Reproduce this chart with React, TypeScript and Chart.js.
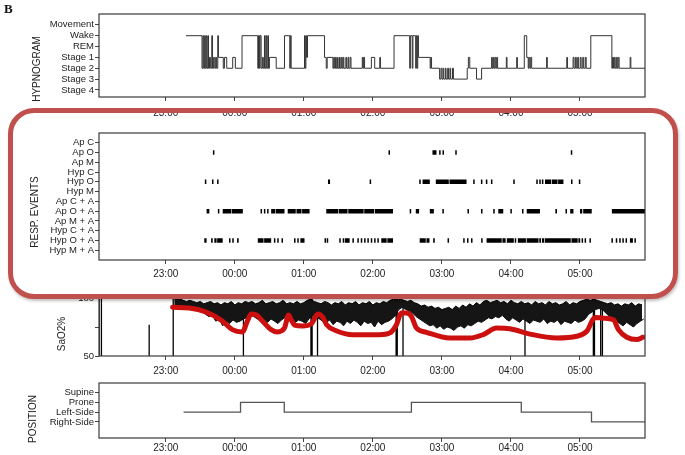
import React, { useEffect, useRef } from "react";
import { Chart, registerables } from "chart.js";

Chart.register(...registerables);

// ---------- shared time axis (minutes after 23:00) ----------
const TIME_TICKS = [0, 60, 120, 180, 240, 300, 360];
const TIME_LABELS = ["23:00", "00:00", "01:00", "02:00", "03:00", "04:00", "05:00"];
const X_MIN = -58;
const X_MAX = 416.5;

// ---------- hypnogram ----------
const HYP_LABELS = ["Movement", "Wake", "REM", "Stage 1", "Stage 2", "Stage 3", "Stage 4"];
// [minute, stage index] : stage held from this minute on
const HYP_CHANGES: [number, number][] = [
  [17.6, 1],
  [31.5, 4], [32.3, 1], [33.0, 4], [33.8, 1], [34.4, 4], [35.2, 1], [35.8, 4], [36.6, 1], [37.2, 4], [38.0, 3],
  [39.0, 4], [40.0, 1], [40.6, 4], [41.6, 3], [42.6, 4], [43.4, 3], [44.2, 4], [45.2, 1], [45.8, 3],
  [50.0, 4], [51.0, 3], [53.0, 4], [58.2, 3], [60.5, 4],
  [66.3, 1],
  [80.0, 4], [80.6, 1], [81.4, 4], [82.0, 1], [82.9, 4], [84.0, 3], [84.8, 4], [85.8, 1], [86.4, 4], [87.2, 1],
  [87.8, 4], [88.7, 1], [89.3, 4], [90.1, 3], [96.0, 4],
  [103.2, 1], [107.8, 4], [108.3, 1], [109.0, 4],
  [120.6, 1], [121.2, 4], [121.8, 1], [122.4, 3], [123.2, 1],
  [138.0, 3], [139.5, 4], [140.3, 3], [145.3, 4], [146.0, 3], [146.8, 4], [147.6, 3], [148.2, 4], [149.2, 3],
  [149.8, 4], [151.0, 3], [151.6, 4], [152.6, 3], [153.4, 4], [154.2, 3], [154.8, 4], [156.5, 3], [157.2, 4],
  [158.4, 3], [159.0, 4], [160.2, 3], [161.0, 4],
  [170.8, 3], [171.4, 4], [172.0, 3], [172.8, 4],
  [178.7, 3], [181.6, 4], [186.0, 3], [186.6, 4],
  [198.4, 1], [212.0, 4], [212.6, 1], [214.2, 4], [214.8, 1], [217.2, 4], [217.8, 1], [218.4, 4], [219.0, 1], [219.6, 3],
  [229.8, 4], [230.4, 3], [231.0, 4],
  [238.0, 5], [239.2, 4], [240.0, 5], [241.0, 4], [241.6, 5], [243.0, 4], [243.6, 5], [245.0, 4], [245.8, 5],
  [247.0, 4], [247.6, 5], [249.2, 4], [250.0, 5],
  [262.0, 4], [263.0, 3], [264.2, 4], [270.1, 5], [274.5, 4],
  [283.2, 3], [283.8, 4], [284.6, 3], [285.2, 4], [286.0, 3], [286.8, 4], [287.6, 3], [288.4, 4],
  [296.0, 3], [296.6, 4], [305.0, 3], [305.6, 4],
  [311.6, 1], [313.7, 3], [315.0, 4], [315.6, 3], [316.4, 4], [317.2, 3], [318.0, 4],
  [331.0, 3], [331.6, 4], [348.5, 3], [349.1, 4],
  [354.0, 3], [354.8, 4], [356.0, 3], [356.8, 4], [358.0, 3], [358.6, 4], [360.2, 3], [361.0, 4], [362.4, 3],
  [363.2, 4], [364.6, 3], [365.4, 4],
  [369.4, 1], [387.7, 4], [388.3, 3], [389.2, 4], [389.8, 3], [390.6, 4], [391.6, 3], [392.4, 4], [393.2, 3], [394.0, 4],
  [403.6, 3], [404.2, 4],
  [416.5, 4],
];

// ---------- respiratory events ----------
const RESP_LABELS = [
  "Ap C", "Ap O", "Ap M", "Hyp C", "Hyp O", "Hyp M",
  "Ap C + A", "Ap O + A", "Ap M + A", "Hyp C + A", "Hyp O + A", "Hyp M + A",
];
// [start minute, end minute]
const EV_AP_O: [number, number][] = [
  [41, 42.3], [193.6, 194.9], [231.8, 235.3], [237.6, 238.9], [240.5, 241.8], [251.6, 252.9], [352, 353.3],
];
const EV_HYP_O: [number, number][] = [
  [34, 35.3], [40.2, 41.5], [44.6, 45.9], [141, 142.8], [177.2, 178.5], [220.3, 221.6], [223.2, 229.5],
  [234.7, 246], [246.6, 261.4], [267.2, 268.5], [273.9, 275.2], [278.2, 279.5], [282.6, 283.9], [302, 303.3],
  [322, 323.3], [324.6, 325.9], [326.9, 328.2], [329.6, 335], [335.6, 340.5], [341, 345.6], [352.2, 353.5],
  [359, 360.3],
];
const EV_AP_O_A: [number, number][] = [
  [35.5, 37.9], [45.3, 46.6], [49.5, 57], [57.5, 67], [82.4, 83.7], [85.3, 86.6], [88.1, 89.4], [91.6, 95],
  [95.5, 103.2], [106, 113], [113.6, 118], [118.5, 125], [139.5, 150], [150.5, 158], [158.6, 172], [172.5, 181],
  [181.6, 197.5], [212, 213.3], [217.3, 220.2], [229.5, 233], [240.4, 241.7], [262.2, 263.5], [274, 275.3],
  [284.6, 285.9], [289, 293.3], [299.5, 300.8], [309.6, 310.9], [313.7, 325.2], [338.6, 340], [347.4, 348.7],
  [351.5, 354.3], [360, 362], [362.8, 370.2], [387.7, 416.5],
];
const EV_HYP_O_A: [number, number][] = [
  [33.5, 35.5], [39.4, 40.8], [42.2, 44.2], [44.7, 49.5], [55, 56.3], [57.8, 59.1], [62, 63.4], [80, 85],
  [85.5, 91.6], [94, 95.3], [96.9, 98.2], [100.6, 101.9], [111.5, 112.8], [114.3, 115.6], [117, 120.6],
  [138, 139.4], [140, 141.2], [150.8, 152.1], [153.8, 155.1], [155.7, 159.8], [162.2, 163.5], [166.5, 167.8],
  [169.5, 170.8], [172.4, 173.7], [175.2, 176.5], [178.2, 179.5], [181.1, 182.4], [183.9, 185.2], [187.3, 192],
  [192.6, 197.5], [220.7, 226], [226.6, 229.2], [232.4, 233.8], [244.9, 246.2], [258.5, 259.8], [261.8, 263.1],
  [265.3, 266.6], [274.1, 275.4], [278.8, 292], [292.6, 295.4], [296.4, 302.5], [303.3, 304.6], [306, 313],
  [313.6, 324], [324.6, 326.2], [327, 328.8], [329.4, 352], [352.6, 358], [358.6, 360.2], [361.4, 362.7],
  [364, 365.3], [368.2, 369.5], [387.3, 388.6], [391.1, 392.4], [394.1, 395.4], [396.8, 398.1], [399.6, 400.9],
  [403.4, 406], [407.3, 408.6],
];

// ---------- SaO2 ----------
const SAO2_TICKS = [50, 75, 100];
const SAO2_TICK_LABELS = ["50", "", "100"];
const SAO2_START = 6; // minute of first sample window
const SAO2_STEP = 3; // minutes per sample window
// upper / lower envelope of the raw SaO2 signal in each window
const SAO2_HI = [
  100, 99, 100, 98, 97, 98, 97, 96, 97, 95,
  96, 97, 95, 96, 94, 96, 95, 97, 94, 96,
  95, 97, 96, 97, 95, 96, 98, 95, 96, 97,
  95, 96, 98, 95, 96, 95, 97, 95, 96, 98,
  99, 97, 96, 95, 97, 96, 94, 96, 95, 97,
  94, 96, 95, 97, 94, 96, 95, 97, 94, 96,
  95, 97, 96, 98, 99, 98, 99, 98, 97, 98,
  96, 95, 93, 94, 92, 93, 91, 92, 90, 91,
  92, 90, 93, 91, 94, 92, 95, 93, 96, 94,
  97, 98, 96, 97, 98, 96, 97, 95, 98, 96,
  95, 97, 95, 96, 94, 97, 95, 96, 94, 97,
  95, 96, 94, 95, 97, 94, 96, 95, 97, 98,
  99, 98, 99, 98, 97, 96, 95, 96, 94, 95,
  93, 95, 94, 96, 93, 95, 94,
];
const SAO2_LO = [
  91, 93, 94, 93, 92, 93, 91, 90, 88, 86,
  84, 85, 80, 82, 76, 80, 78, 81, 79, 80,
  82, 83, 85, 84, 82, 80, 81, 79, 82, 80,
  78, 81, 83, 80, 82, 79, 81, 80, 78, 82,
  85, 84, 82, 80, 79, 81, 77, 80, 79, 76,
  80, 78, 81, 79, 76, 80, 78, 79, 75, 80,
  77, 79, 80, 82, 85, 90, 92, 90, 89, 87,
  84, 82, 80, 78, 76, 77, 74, 76, 73, 75,
  74, 72, 75, 76, 74, 77, 76, 78, 80, 79,
  81, 83, 82, 84, 83, 85, 82, 80, 83, 81,
  79, 82, 80, 78, 81, 80, 79, 82, 78, 80,
  79, 81, 77, 80, 79, 78, 81, 79, 80, 82,
  86, 88, 90, 91, 90, 87, 84, 82, 80, 78,
  76, 79, 77, 75, 78, 80, 82,
];
// artefact drops: [minute, top value]
const SAO2_ARTIFACTS: [number, number][] = [
  [-57.9, 100], [-55.9, 100], [-14.4, 77], [6.5, 100], [67.5, 84], [126.2, 100], [127.2, 100], [131.9, 90],
  [200.2, 100], [201.2, 100], [206.2, 95], [312.2, 88], [371.6, 100], [372.6, 100], [378, 96], [379.5, 96],
];
// smoothed red trend: [minute, value]
const SAO2_TREND: [number, number][] = [
  [5.9, 92.0], [20.5, 91.4], [35, 87.9], [49.2, 80.2], [57.9, 72.7], [66.6, 70.7], [71, 80.2], [74.2, 86.2],
  [78.5, 85.6], [84, 80.2], [91.6, 72.7], [97, 70.7], [103.2, 74.1], [106.7, 85.3], [109, 81.3], [111.9, 76.7],
  [118.9, 75.9], [126.4, 77.6], [132.2, 86.2], [136.3, 83.6], [139.8, 77.0], [148.2, 71.8], [162.4, 68.4],
  [185.9, 68.4], [194.6, 69.8], [200.5, 77.0], [204.8, 87.1], [209.2, 87.1], [213.5, 84.2], [217.9, 74.1],
  [226.6, 70.4], [246.9, 65.5], [264.3, 65.5], [275.9, 68.4], [287.5, 74.1], [299.1, 73.5], [316.5, 68.9],
  [339.8, 65.5], [357.2, 67.0], [365.9, 71.3], [373.1, 83.2], [380.4, 82.6], [389.1, 81.2], [393.4, 72.7],
  [400.7, 66.2], [409.4, 64.2], [414.7, 66.2],
];

// ---------- body position ----------
const POS_LABELS = ["Supine", "Prone", "Left-Side", "Right-Side"];
const POS_CHANGES: [number, number][] = [
  [15.5, 2], [65, 1], [103, 2], [213.5, 1], [309, 2], [370, 3], [416.5, 3],
];

// ---------- drawing helpers ----------
const FONT = { family: "'Liberation Sans', Arial, sans-serif", size: 10 };
const Y_FONT = { family: "'Liberation Sans', Arial, sans-serif", size: 9.5 };
const TEXT = "#222";
const TICK = "#444";

const boxPlugin = {
  id: "panelBox",
  afterDatasetsDraw(chart: any) {
    const { ctx, chartArea: a } = chart;
    ctx.save();
    ctx.strokeStyle = "#3a3a3a";
    ctx.lineWidth = 1.2;
    ctx.strokeRect(a.left, a.top, a.right - a.left, a.bottom - a.top);
    ctx.restore();
  },
};

function baseOptions(cfg: {
  padTop: number;
  xHeight: number;
  xPad: number;
  yMin: number;
  yMax: number;
  reverse: boolean;
  yTicks: number[];
  yLabels: string[];
}) {
  return {
    responsive: false,
    animation: false,
    devicePixelRatio: 1,
    layout: { padding: { left: 0, right: 40, top: cfg.padTop, bottom: 0 } },
    plugins: { legend: { display: false }, tooltip: { enabled: false } },
    elements: { point: { radius: 0 } },
    scales: {
      x: {
        type: "linear",
        min: X_MIN,
        max: X_MAX,
        afterBuildTicks: (s: any) => {
          s.ticks = TIME_TICKS.map((v) => ({ value: v }));
        },
        afterFit: (s: any) => {
          s.height = cfg.xHeight;
        },
        ticks: {
          callback: (_v: any, i: number) => TIME_LABELS[i],
          font: FONT,
          color: TEXT,
          padding: cfg.xPad,
          maxRotation: 0,
          autoSkip: false,
        },
        grid: { drawOnChartArea: false, tickLength: 4, color: TICK },
        border: { display: false },
      },
      y: {
        type: "linear",
        min: cfg.yMin,
        max: cfg.yMax,
        reverse: cfg.reverse,
        afterBuildTicks: (s: any) => {
          s.ticks = cfg.yTicks.map((v) => ({ value: v }));
        },
        afterFit: (s: any) => {
          s.width = 99;
        },
        ticks: {
          callback: (_v: any, i: number) => cfg.yLabels[i],
          font: Y_FONT,
          color: TEXT,
          padding: 1,
          autoSkip: false,
        },
        grid: { drawOnChartArea: false, tickLength: 4, color: TICK },
        border: { display: false },
      },
    },
  };
}

function segments(events: [number, number][], row: number) {
  return events.flatMap(([a, b]) => [
    { x: a, y: row },
    { x: b, y: row },
    { x: b, y: null },
  ]);
}

function eventDataset(events: [number, number][], row: number) {
  return {
    data: segments(events, row),
    borderColor: "#000",
    borderWidth: 4.5,
    borderCapStyle: "butt",
    pointRadius: 0,
    spanGaps: false,
  };
}

function hypConfig(): any {
  return {
    type: "line",
    data: {
      datasets: [
        {
          data: HYP_CHANGES.map(([t, s]) => ({ x: t, y: s })),
          stepped: true,
          borderColor: "#333",
          borderWidth: 1,
          pointRadius: 0,
        },
      ],
    },
    options: baseOptions({
      padTop: 14,
      xHeight: 23,
      xPad: 6,
      yMin: -1,
      yMax: 6.65,
      reverse: true,
      yTicks: HYP_LABELS.map((_, i) => i),
      yLabels: HYP_LABELS,
    }),
    plugins: [boxPlugin],
  };
}

function respConfig(): any {
  return {
    type: "line",
    data: {
      datasets: [
        eventDataset(EV_AP_O, 1),
        eventDataset(EV_HYP_O, 4),
        eventDataset(EV_AP_O_A, 7),
        eventDataset(EV_HYP_O_A, 10),
      ],
    },
    options: baseOptions({
      padTop: 13,
      xHeight: 30,
      xPad: 4,
      yMin: -1,
      yMax: 12,
      reverse: true,
      yTicks: RESP_LABELS.map((_, i) => i),
      yLabels: RESP_LABELS,
    }),
    plugins: [boxPlugin],
  };
}

function sao2Config(): any {
  const hiLine = SAO2_HI.map((v, i) => ({ x: SAO2_START + i * SAO2_STEP, y: v }));
  const loLine = SAO2_LO.map((v, i) => ({ x: SAO2_START + i * SAO2_STEP + SAO2_STEP / 2, y: v }));
  const drops = SAO2_ARTIFACTS.flatMap(([t, top]) => [
    { x: t, y: 50 },
    { x: t, y: top },
    { x: t, y: null },
  ]);
  return {
    type: "line",
    data: {
      datasets: [
        {
          data: SAO2_TREND.map(([t, v]) => ({ x: t, y: v })),
          borderColor: "#cc1010",
          borderWidth: 5,
          cubicInterpolationMode: "monotone",
          borderCapStyle: "round",
          borderJoinStyle: "round",
          pointRadius: 0,
        },
        {
          data: hiLine,
          borderColor: "#000",
          backgroundColor: "#151515",
          borderWidth: 1,
          fill: "+1",
          pointRadius: 0,
        },
        {
          data: loLine,
          borderColor: "#000",
          borderWidth: 1,
          pointRadius: 0,
        },
        {
          data: drops,
          borderColor: "#000",
          borderWidth: 1.3,
          pointRadius: 0,
          spanGaps: false,
        },
      ],
    },
    options: baseOptions({
      padTop: 13,
      xHeight: 24,
      xPad: 5,
      yMin: 50,
      yMax: 100,
      reverse: false,
      yTicks: SAO2_TICKS,
      yLabels: SAO2_TICK_LABELS,
    }),
    plugins: [boxPlugin],
  };
}

function posConfig(): any {
  return {
    type: "line",
    data: {
      datasets: [
        {
          data: POS_CHANGES.map(([t, s]) => ({ x: t, y: s })),
          stepped: true,
          borderColor: "#555",
          borderWidth: 1.3,
          pointRadius: 0,
        },
      ],
    },
    options: baseOptions({
      padTop: 8,
      xHeight: 17,
      xPad: 0,
      yMin: -1,
      yMax: 4.65,
      reverse: true,
      yTicks: POS_LABELS.map((_, i) => i),
      yLabels: POS_LABELS,
    }),
    plugins: [boxPlugin],
  };
}

function Panel({ top, height, build }: { top: number; height: number; build: () => any }) {
  const ref = useRef<HTMLCanvasElement>(null);
  useEffect(() => {
    const chart = new Chart(ref.current as HTMLCanvasElement, build());
    return () => chart.destroy();
  }, []);
  return (
    <canvas
      ref={ref}
      width={685}
      height={height}
      style={{ position: "absolute", left: 0, top, width: 685, height }}
    />
  );
}

function SideTitle({ text, x, y }: { text: string; x: number; y: number }) {
  return (
    <div
      style={{
        position: "absolute",
        left: x,
        top: y,
        transform: "translate(-50%, -50%) rotate(-90deg)",
        font: "10px 'Liberation Sans', Arial, sans-serif",
        color: TEXT,
        whiteSpace: "nowrap",
        lineHeight: "12px",
      }}
    >
      {text}
    </div>
  );
}

export default function App() {
  return (
    <div
      style={{
        position: "fixed",
        left: 0,
        top: 0,
        width: 685,
        height: 455,
        background: "#fff",
        overflow: "hidden",
      }}
    >
      <Panel top={0} height={120} build={hypConfig} />
      <Panel top={120} height={170} build={respConfig} />
      <Panel top={285} height={95} build={sao2Config} />
      <Panel top={375} height={80} build={posConfig} />

      <SideTitle text="HYPNOGRAM" x={37} y={69} />
      <SideTitle text="RESP. EVENTS" x={35} y={212} />
      <SideTitle text="SaO2%" x={62} y={334} />
      <SideTitle text="POSITION" x={33} y={419} />

      <div
        style={{
          position: "absolute",
          left: 4,
          top: 1,
          font: "bold 13px 'Liberation Serif', serif",
          color: "#111",
        }}
      >
        B
      </div>

      <div
        style={{
          position: "absolute",
          left: 8,
          top: 108,
          width: 670,
          height: 191,
          boxSizing: "border-box",
          border: "5px solid #c0504d",
          borderRadius: 26,
          boxShadow: "1px 2px 3px rgba(0,0,0,0.25)",
          pointerEvents: "none",
        }}
      />
    </div>
  );
}
